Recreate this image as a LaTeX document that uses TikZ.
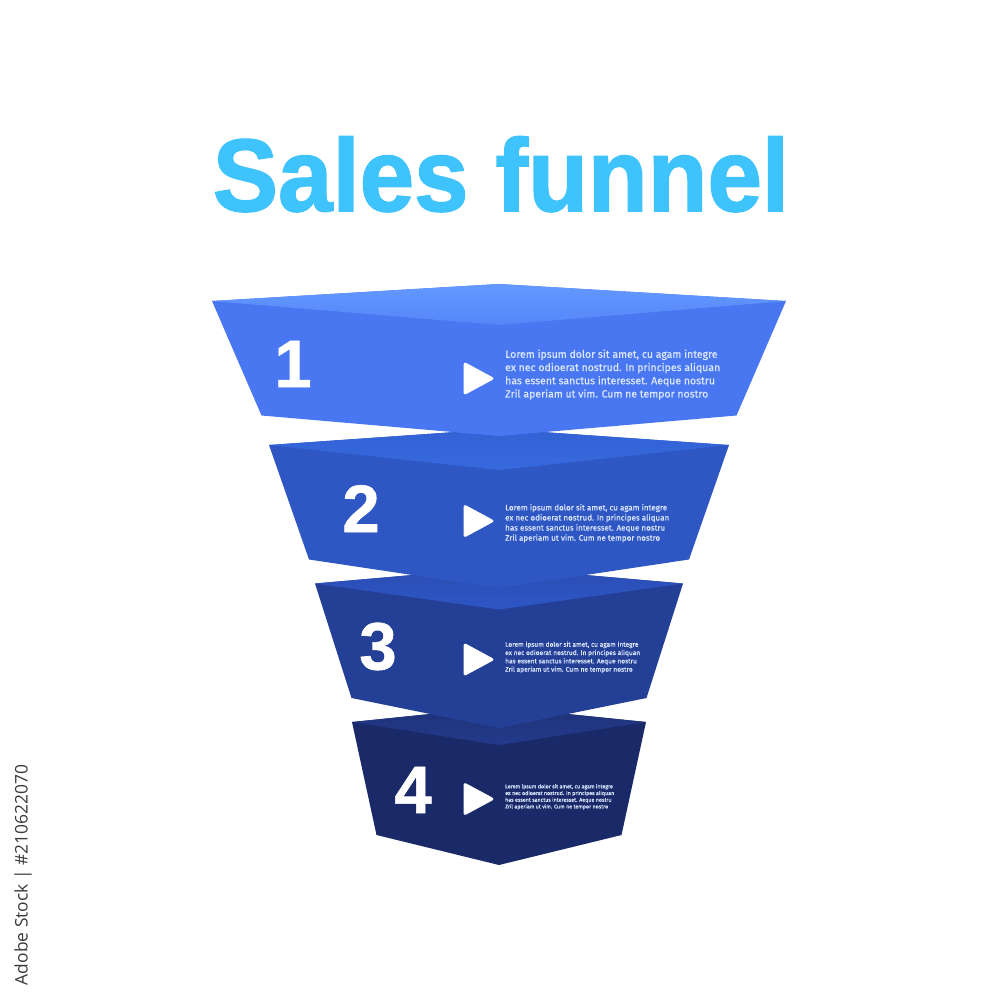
\documentclass[tikz,border=0pt]{standalone}
\usepackage{fontspec}
\usepackage{graphicx}
\setmainfont{Liberation Sans}
\newfontfamily\heavyfont[BoldFeatures={FakeBold=1.6}]{Liberation Sans}
\newfontfamily\numfont[BoldFeatures={FakeBold=1.0}]{Liberation Sans}
\newfontfamily\bodyfont[UprightFeatures={FakeBold=0.5}]{Fira Sans}
\newfontfamily\wmfont{Open Sans}
\definecolor{titleblue}{HTML}{3FC3FC}
\definecolor{LAbody}{HTML}{4977F1}
\definecolor{LAtopA}{HTML}{6399FF}
\definecolor{LAtopB}{HTML}{5586F8}
\definecolor{LBbody}{HTML}{2F57C3}
\definecolor{LBtopA}{HTML}{3262D4}
\definecolor{LBtopB}{HTML}{3769DE}
\definecolor{LCbody}{HTML}{243F96}
\definecolor{LCtopA}{HTML}{2A4DB2}
\definecolor{LCtopB}{HTML}{2E56C6}
\definecolor{LDbody}{HTML}{1A2A68}
\definecolor{LDtopA}{HTML}{1F3278}
\definecolor{LDtopB}{HTML}{233A8C}
\definecolor{txtlight}{HTML}{DCE8FF}
\definecolor{wmgray}{HTML}{3A3A3A}
\newcommand\loremtxt{\bodyfont\fontsize{10}{12.6}\selectfont\begin{tabular}{@{}l@{}}Lorem ipsum dolor sit amet, cu agam integre\\ ex nec odioerat nostrud. In principes aliquan\\ has essent sanctus interesset. Aeque nostru\\ Zril aperiam ut vim. Cum ne tempor nostro\end{tabular}}
\tikzset{
  numstyle/.style={text=white, inner sep=0pt, anchor=base, font=\numfont\bfseries\fontsize{67}{67}\selectfont},
  blurb/.style={text=txtlight, inner sep=0pt, anchor=west},
  playtri/.style={fill=white, rounded corners=3pt}
}
\begin{document}
\begin{tikzpicture}[x=1pt,y=-1pt]
\useasboundingbox[fill=white] (0,0) rectangle (1000,1000);
\def\cx{499}
% layers drawn bottom first so upper ones overlap
\foreach \T/\WT/\B/\WB/\f/\d/\k/\bc/\ta/\tb in {
  722/147/835/122.5/23/30/15/LDbody/LDtopA/LDtopB,
  583.5/184/698/147.5/26/30/16/LCbody/LCtopA/LCtopB,
  445/230/559.5/190/25/28.5/16/LBbody/LBtopA/LBtopB,
  301/287/415.5/237.5/24/20.5/17/LAbody/LAtopA/LAtopB}
{
  \fill[\bc] (\cx-\WT,\T) -- (\cx,\T-\k) -- (\cx+\WT,\T) -- (\cx+\WB,\B) -- (\cx,\B+\d) -- (\cx-\WB,\B) -- cycle;
  \shade[top color=\ta, bottom color=\tb] (\cx-\WT,\T) -- (\cx,\T-\k) -- (\cx+\WT,\T) -- (\cx,\T+\f) -- cycle;
}
% title
\node[text=titleblue, inner sep=0pt, anchor=base] (title) at (501,211)
  {\scalebox{0.95}[1]{\heavyfont\bfseries\fontsize{103}{103}\selectfont Sales funnel}};
% numbers
\node[numstyle] (n1) at (293,387) {1};
\node[numstyle] (n2) at (361,532) {2};
\node[numstyle] (n3) at (378,669.5) {3};
\node[numstyle] (n4) at (413,813) {4};
% play triangles
\foreach \yc/\nm in {378.5/p1, 521/p2, 659.5/p3, 799/p4}{
  \fill[playtri] (463.5,\yc-17) -- (495,\yc) -- (463.5,\yc+17) -- cycle;
}
% text blocks
\node[blurb] (t1) at (505,375) {\resizebox{215pt}{!}{\loremtxt}};
\node[blurb] (t2) at (505,523.5) {\resizebox{164pt}{!}{\loremtxt}};
\node[blurb] (t3) at (505,657.5) {\resizebox{135pt}{!}{\loremtxt}};
\node[blurb] (t4) at (505,797) {\resizebox{109pt}{!}{\loremtxt}};
% side credit
\node[text=wmgray, inner sep=0pt, rotate=90] (credit) at (23,875)
  {\resizebox{220pt}{!}{\wmfont Adobe Stock | \#210622070}};
\end{tikzpicture}
\end{document}
